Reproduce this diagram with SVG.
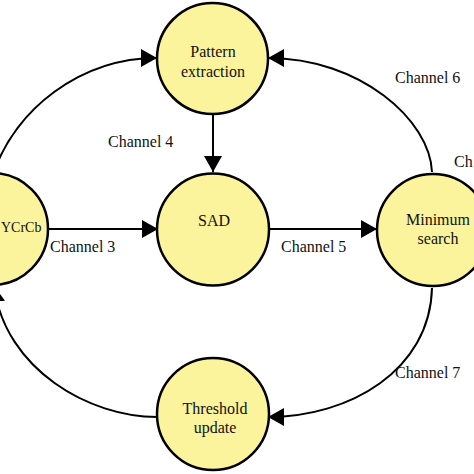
<svg xmlns="http://www.w3.org/2000/svg" width="474" height="474" viewBox="0 0 474 474">
<style>
.node{fill:#FBF49C;stroke:#000;stroke-width:2.5}
.lbl{font-family:"Liberation Serif","Times New Roman",serif;font-size:16px;fill:#111}
.c{text-anchor:middle}
.edge{fill:none;stroke:#000;stroke-width:2;marker-end:url(#ah)}
</style>
<defs>
<marker id="ah" markerUnits="userSpaceOnUse" markerWidth="16" markerHeight="18" viewBox="0 0 16 18" refX="16" refY="9" orient="auto">
<path d="M0,0 L16,9 L0,18 Z" fill="#000"/>
</marker>
</defs>
<rect width="474" height="474" fill="#fff"/>
<g id="connectors">
<path class="edge" d="M213,114 L213,172"/>
<path class="edge" d="M48,229 L158,229"/>
<path class="edge" d="M268,229 L377,229"/>
<path class="edge" d="M-6,172 C15,110 80,58 157,58"/>
<path class="edge" d="M432,172 C430,120 360,58 268,58"/>
<path class="edge" d="M432,288 C430,370 350,417 268,417"/>
<path class="edge" d="M157,417 C90,417 5,370 -6,286"/>
</g>
<g id="pattern">
<circle class="node" cx="212.5" cy="58.5" r="55.5"/>
<text class="lbl c" x="213" y="57">Pattern</text>
<text class="lbl c" x="213" y="77">extraction</text>
</g>
<g id="sad">
<circle class="node" cx="213" cy="229.5" r="56"/>
<text class="lbl c" x="214" y="226">SAD</text>
</g>
<g id="ycrcb">
<circle class="node" cx="-8" cy="229" r="56"/>
<text class="lbl" x="1" y="232" style="font-size:14px">YCrCb</text>
</g>
<g id="minimum">
<circle class="node" cx="433" cy="230" r="56"/>
<text class="lbl c" x="438" y="225">Minimum</text>
<text class="lbl c" x="438" y="244">search</text>
</g>
<g id="threshold">
<circle class="node" cx="213" cy="414" r="56"/>
<text class="lbl c" x="215" y="414">Threshold</text>
<text class="lbl c" x="215" y="433">update</text>
</g>
<g id="labels">
<text class="lbl" x="108" y="147">Channel 4</text>
<text class="lbl" x="50" y="252">Channel 3</text>
<text class="lbl" x="281" y="252">Channel 5</text>
<text class="lbl" x="395" y="83">Channel 6</text>
<text class="lbl" x="454" y="167">Ch</text>
<text class="lbl" x="395" y="378">Channel 7</text>
</g>
</svg>
